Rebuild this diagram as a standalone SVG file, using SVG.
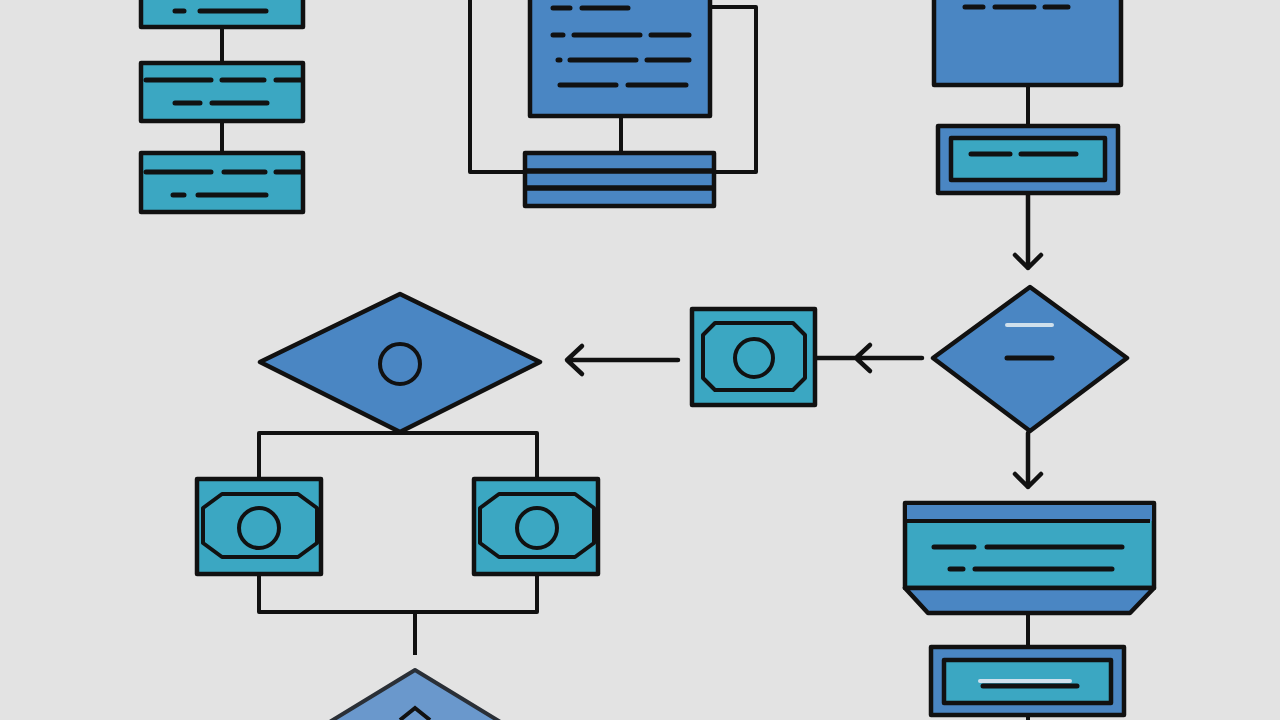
<svg xmlns="http://www.w3.org/2000/svg" width="1280" height="720" viewBox="0 0 1280 720">
<style>
.bl{fill:#4a86c3;stroke:#111;stroke-width:4.5;stroke-linejoin:round}
.tl{fill:#3ba7c2;stroke:#111;stroke-width:4.5;stroke-linejoin:round}
.ln{fill:none;stroke:#111;stroke-width:4.5;stroke-linecap:round;stroke-linejoin:round}
.cn{fill:none;stroke:#111;stroke-width:4;stroke-linejoin:round}
.ds{fill:none;stroke:#111;stroke-width:5;stroke-linecap:round}
.hl{fill:none;stroke:#cfe0ec;stroke-width:4;stroke-linecap:round}
</style>
<rect width="1280" height="720" fill="#e3e3e3"/>
<g id="connectors">
<path class="cn" d="M222 27V63M222 121V153"/>
<path class="cn" d="M621 116V153"/>
<path class="cn" d="M470 -5V172H525"/>
<path class="cn" d="M710 7H756V172H714"/>
<path class="cn" d="M1028 85V126"/>
<path class="ln" d="M1028 193V268M1015 255L1028 268L1041 255"/>
<path class="ln" d="M922 358H817M870 345L856 358L870 371"/>
<path class="ln" d="M678 360H567M582 346L567 360L582 374"/>
<path class="cn" d="M259 478V433H537V478"/>
<path class="cn" d="M259 574V612H537V574M415 612V655"/>
<path class="ln" d="M1028 433V487M1015 474L1028 487L1041 474"/>
<path class="cn" d="M1028 613V647M1028 715V725"/>
</g>
<g id="left-box-1">
<rect class="tl" x="141" y="-10" width="162" height="37"/>
<path class="ds" d="M175 11H184M200 11H266"/>
</g>
<g id="left-box-2">
<rect class="tl" x="141" y="63" width="162" height="58"/>
<path class="ds" d="M146 80H211M222 80H264M276 80H301M175 103H200M212 103H267"/>
</g>
<g id="left-box-3">
<rect class="tl" x="141" y="153" width="162" height="59"/>
<path class="ds" d="M146 172H211M224 172H265M276 172H301M173 195H184M198 195H266"/>
</g>
<g id="doc-box">
<rect class="bl" x="530" y="-10" width="180" height="126"/>
<path class="ds" d="M553 8H570M582 8H628M553 35H563M574 35H640M651 35H689M558 60H560M570 60H636M647 60H689M560 85H616M628 85H686"/>
</g>
<g id="stack-box">
<rect class="bl" x="525" y="153" width="189" height="53"/>
<path fill="none" stroke="#111" stroke-width="5.5" d="M525 171H714M525 188H714"/>
</g>
<g id="right-top-box">
<rect class="bl" x="934" y="-10" width="187" height="95"/>
<path class="ds" d="M965 7H983M995 7H1034M1045 7H1068"/>
</g>
<g id="right-sub-box">
<rect class="bl" x="938" y="126" width="180" height="67"/>
<rect class="tl" x="951" y="138" width="154" height="42" stroke-width="4"/>
<path class="ds" d="M971 154H1010M1021 154H1076"/>
</g>
<g id="decision-right">
<polygon class="bl" points="1030,287 1127,358 1030,431 933,358"/>
<path class="hl" d="M1007 325H1052"/>
<path class="ds" d="M1007 358H1052"/>
</g>
<g id="token-middle">
<rect class="tl" x="692" y="309" width="123" height="96"/>
<polygon class="cn" points="715,323 793,323 805,335 805,378 793,390 715,390 703,378 703,335"/>
<circle class="cn" cx="754" cy="358" r="19"/>
</g>
<g id="decision-left">
<polygon class="bl" points="400,294 540,362 400,432 260,362"/>
<circle class="cn" cx="400" cy="364" r="20"/>
</g>
<g id="token-left">
<rect class="tl" x="197" y="479" width="124" height="95"/>
<polygon class="cn" points="222,494 298,494 317,508 317,543 298,557 222,557 203,543 203,508"/>
<circle class="cn" cx="259" cy="528" r="20"/>
</g>
<g id="token-right">
<rect class="tl" x="474" y="479" width="124" height="95"/>
<polygon class="cn" points="499,494 575,494 594,508 594,543 575,557 499,557 480,543 480,508"/>
<circle class="cn" cx="537" cy="528" r="20"/>
</g>
<g id="decision-bottom">
<polygon points="415,670 530,740 300,740" fill="#6a98cc" stroke="#2a2f36" stroke-width="4" stroke-linejoin="round"/>
<path d="M400 720L415 708L430 720" fill="none" stroke="#111" stroke-width="4"/>
</g>
<g id="right-wide-box">
<rect class="tl" x="905" y="503" width="249" height="85"/>
<rect x="907" y="505" width="245" height="16" fill="#4a86c3"/>
<path class="cn" d="M905 521H1150"/>
<polygon class="bl" points="905,588 1154,588 1130,613 928,613"/>
<path class="ds" d="M934 547H974M987 547H1122M950 569H963M975 569H1112"/>
</g>
<g id="right-bottom-box">
<rect class="bl" x="931" y="647" width="193" height="68"/>
<rect class="tl" x="944" y="660" width="167" height="43" stroke-width="4"/>
<path class="hl" d="M980 681H1070"/>
<path class="ds" d="M983 686H1077"/>
</g>
</svg>
